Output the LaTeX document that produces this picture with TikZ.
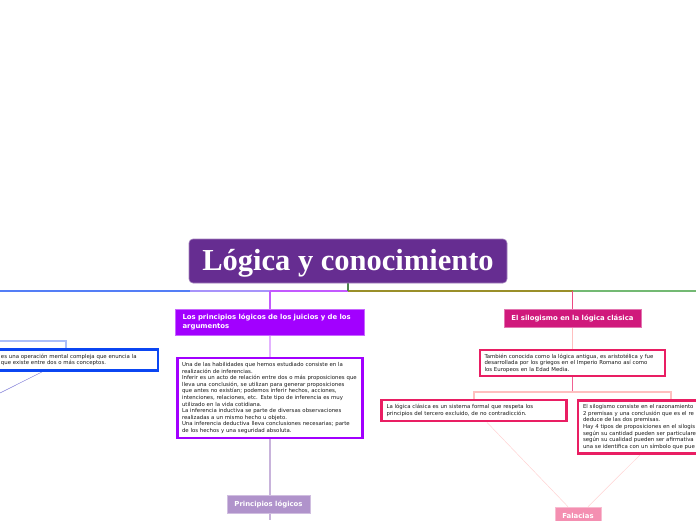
\documentclass[tikz,border=0pt]{standalone}
\usepackage{fontspec}
\usetikzlibrary{backgrounds}
\setmainfont{DejaVu Sans}
\newfontfamily\titlefont{Liberation Serif}
\definecolor{rootc}{HTML}{662D91}
\definecolor{purp}{HTML}{A200FF}
\definecolor{crim}{HTML}{D0197C}
\definecolor{pinkb}{HTML}{E91E63}
\definecolor{blueb}{HTML}{0B46F2}
\definecolor{lav}{HTML}{B093CB}
\definecolor{fal}{HTML}{F48FB1}
\tikzset{
 x=1pt,y=-1pt,
 rootbox/.style={draw=rootc!60!white,line width=.6pt,fill=rootc,rounded corners=4pt,text=white,font=\titlefont\bfseries\fontsize{30.5}{33}\selectfont,inner sep=0pt},
 headbox/.style={draw=#1!60!white,line width=.6pt,fill=#1,text=white,font=\bfseries\fontsize{6.9}{9}\selectfont,inner sep=0pt,align=left},
 textbox/.style={draw=#1,line width=2.8pt,fill=white,text=black!90,font=\fontsize{5.4}{6.6}\selectfont,inner sep=0pt,align=left},
 link/.style={line width=1.1pt},
 faint/.style={line width=.5pt,draw=pink!70!white},
}
\begin{document}
\begin{tikzpicture}
\useasboundingbox (0,0) rectangle (696,520);
\clip (0,0) rectangle (696,520);
\node[rootbox,minimum width=318pt,minimum height=44pt] (root) at (348,261) {\raisebox{-9pt}[0pt][0pt]{Lógica y conocimiento}};
\node[headbox=purp,minimum width=189pt,minimum height=26pt,text width=175pt] (pr) at (270,322) {Los principios lógicos de los juicios y de los\\argumentos};
\node[headbox=crim,minimum width=137pt,minimum height=18pt] (sil) at (572.5,318) {El silogismo en la lógica clásica};
\node[textbox=purp,minimum width=185pt,minimum height=80pt,text width=176pt] (inf) at (270,398) {Una de las habilidades que hemos estudiado consiste en la\\realización de inferencias.\\Inferir es un acto de relación entre dos o más proposiciones que\\lleva una conclusión, se utilizan para generar proposiciones\\que antes no existían; podemos inferir hechos, acciones,\\intenciones, relaciones, etc. Este tipo de inferencia es muy\\utilizado en la vida cotidiana.\\La inferencia inductiva se parte de diversas observaciones\\realizadas a un mismo hecho u objeto.\\Una inferencia deductiva lleva conclusiones necesarias; parte\\de los hechos y una seguridad absoluta.};
\node[textbox=blueb,minimum width=164pt,minimum height=21pt,text width=150pt] (conc) at (76,360) {es una operación mental compleja que enuncia la\\que existe entre dos o más conceptos.};
\node[textbox=pinkb,minimum width=185pt,minimum height=26pt,text width=176pt] (clas) at (572.5,363) {También conocida como la lógica antigua, es aristotélica y fue\\desarrollada por los griegos en el Imperio Romano así como\\los Europeos en la Edad Media.};
\node[textbox=pinkb,minimum width=185pt,minimum height=21pt,text width=175pt] (log) at (474,410.5) {La lógica clásica es un sistema formal que respeta los\\principios del tercero excluido, de no contradicción.};
\node[textbox=pinkb,minimum width=186pt,minimum height=53pt,text width=176pt] (silo) at (671,427) {El silogismo consiste en el razonamiento\\2 premisas y una conclusión que es el re\\deduce de las dos premisas.\\Hay 4 tipos de proposiciones en el silogis\\según su cantidad pueden ser particulare\\según su cualidad pueden ser afirmativa\\una se identifica con un símbolo que pue};
\node[headbox=lav,minimum width=83pt,minimum height=18pt] (princ) at (268.5,504) {Principios lógicos};
\node[headbox=fal,minimum width=46pt,minimum height=18pt] (fala) at (578,516) {Falacias};
% anchors
\coordinate (barL) at (0,291);
\coordinate (barBlue) at (190,291);
\coordinate (barP) at (270,291);
\coordinate (barM) at (348,291);
\coordinate (barS) at (572.5,291);
\coordinate (barR) at (696,291);
\coordinate (forkM) at (572.5,392);
\coordinate (forkL) at (474,392);
\coordinate (forkR) at (671,392);
\coordinate (blueFL) at (0,341);
\coordinate (blueFR) at (66,341);
\coordinate (blueEnd) at (0,393);
\coordinate (princEnd) at (270,520);
\begin{scope}[on background layer]
\draw[link,draw=blueb!70!white] (barL) -- (barBlue);
\draw[link,draw=blueb!55!purp!50!white] (barBlue) -- (barP);
\draw[link,draw=purp!65!white] (barP) -- (barM);
\draw[link,draw=olive!75!lav] (barM) -- (barS);
\draw[link,draw=green!50!black!55!white] (barS) -- (barR);
\draw[link,draw=green!30!black!70!white] (root.south) -- (barM);
\draw[link,draw=purp!65!white] (barP) -- (pr.north);
\draw[link,draw=pinkb!80!white] (barS) -- (sil.north);
\draw[link,draw=purp!30!white] (pr.south) -- (inf.north);
\draw[link,draw=lav!70!white] (inf.south) -- (inf.south |- princ.north);
\draw[link,draw=lav!70!white] (princ.south -| princEnd) -- (princEnd);
\draw[link,draw=pink] (sil.south) -- (clas.north);
\draw[link,draw=pinkb!70!white] (clas.south) -- (forkM);
\draw[link,draw=pink] (log.north) -- (forkL) -- (forkR) -- (silo.north);
\draw[link,draw=blueb!35!white] (blueFL) -- (blueFR) -- (conc.north -| blueFR);
\draw[line width=.5pt,draw=blueb!30!lav] ([xshift=-34pt]conc.south) -- (blueEnd);
\draw[faint] ([xshift=13pt]log.south) -- ([xshift=-10pt]fala.north);
\draw[faint] ([xshift=-31pt]silo.south) -- ([xshift=10pt]fala.north);
\end{scope}
\end{tikzpicture}
\end{document}
